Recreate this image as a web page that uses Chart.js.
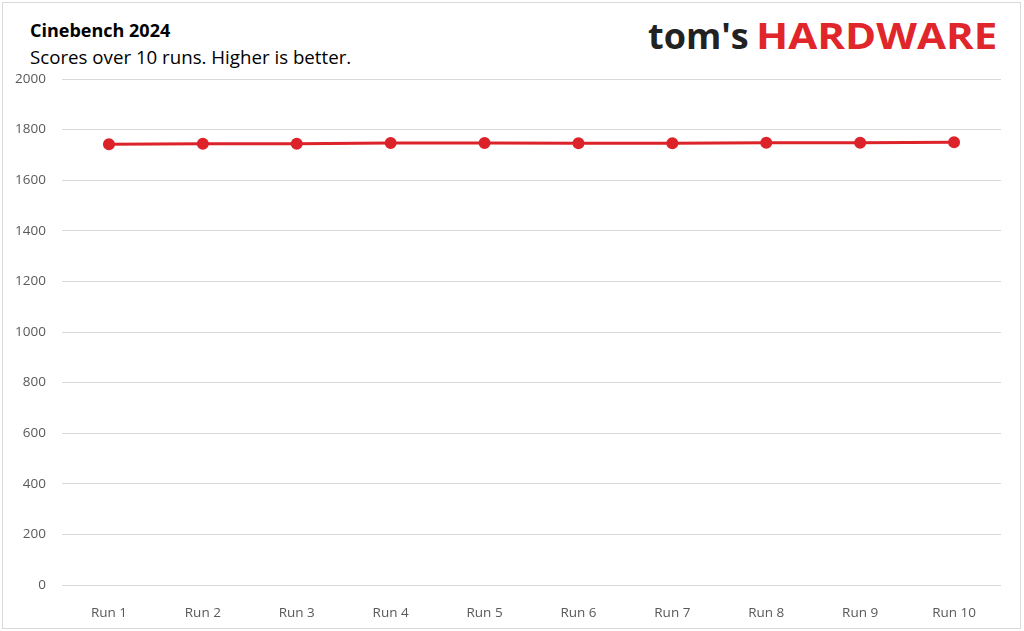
<!DOCTYPE html>
<html>
<head>
<meta charset="utf-8">
<script src="https://cdn.jsdelivr.net/npm/chart.js@4"></script>
<style>
  body { margin: 0; background: #fff; }
  #wrap { position: relative; width: 1024px; height: 631px; overflow: hidden; }
  #frame { position: absolute; left: 2px; top: 2px; width: 1017px; height: 625px; border: 1px solid #d9d9d9; }
  #title { position: absolute; left: 30px; top: 18px; font: bold 18px "Open Sans", sans-serif; color: #000; }
  #sub { position: absolute; left: 30px; top: 44px; font: 18.7px "Open Sans", sans-serif; color: #000; }
  #logo { position: absolute; left: 648px; top: 11px; font: bold 36px "Open Sans", sans-serif; white-space: nowrap; }
  #logo .t { color: #222; }
  #logo .h { display: inline-block; color: #e0262b; margin-left: 7px; transform: scaleX(1.17); transform-origin: left center; }
  canvas { position: absolute; left: 0; top: 0; }
</style>
</head>
<body>
<div id="wrap">
  <div id="frame"></div>
  <div id="title">Cinebench 2024</div>
  <div id="sub">Scores over 10 runs. Higher is better.</div>
  <div id="logo"><span class="t">tom's</span><span class="h">HARDWARE</span></div>
  <canvas id="cb_chart" width="1024" height="631"></canvas>
</div>
<script>
// 데이터
let runLabels = ['Run 1', 'Run 2', 'Run 3', 'Run 4', 'Run 5', 'Run 6', 'Run 7', 'Run 8', 'Run 9', 'Run 10'];
let scoreList = [1742, 1744, 1744, 1747, 1747, 1746, 1746, 1748, 1748, 1750];
let yTicks = [0, 200, 400, 600, 800, 1000, 1200, 1400, 1600, 1800, 2000];

new Chart(document.getElementById('cb_chart'), {
  type: 'line',
  data: {
    labels: runLabels,
    datasets: [{
      data: scoreList,
      label: 'Cinebench 2024',
      borderColor: '#dc2329',
      backgroundColor: '#dc2329',
      borderWidth: 3,
      pointRadius: 4.5,
      pointHoverRadius: 4.5,
      fill: false,
      tension: 0
    }]
  },
  options: {
    responsive: false,
    animation: false,
    layout: { padding: { left: 0, right: 23, top: 79, bottom: 0 } },
    plugins: {
      legend: { display: false },
      tooltip: { enabled: false }
    },
    scales: {
      x: {
        offset: true,
        grid: { display: false },
        border: { display: false },
        afterFit: function(scale) { scale.height = 46; },
        ticks: { padding: 12, color: '#595959', font: { family: 'Open Sans', size: 13.5 } }
      },
      y: {
        min: 0,
        max: 2000,
        afterFit: function(scale) { scale.width = 62; },
        afterBuildTicks: function(scale) { scale.ticks = yTicks.map(v => ({ value: v })); },
        grid: { color: '#d9d9d9', drawTicks: false },
        border: { display: false },
        ticks: {
          padding: 16, color: '#595959', font: { family: 'Open Sans', size: 13.5 },
          callback: function(value) { return String(value); } // 콤마 없이
        }
      }
    }
  }
});
</script>
</body>
</html>
